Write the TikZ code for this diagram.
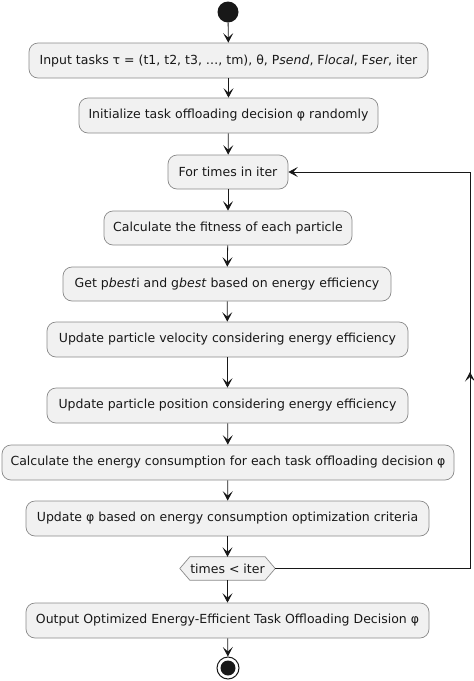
\documentclass[tikz,border=0pt]{standalone}
\usepackage{fontspec}
\setmainfont{DejaVu Sans}
\usetikzlibrary{arrows.meta,calc}
\definecolor{boxfill}{HTML}{F1F1F1}
\definecolor{boxline}{HTML}{8A8A8A}
\definecolor{ink}{HTML}{181818}
\begin{document}
\begin{tikzpicture}[x=1pt,y=-1pt,
  act/.style={rectangle,rounded corners=9pt,draw=boxline,fill=boxfill,line width=0.7pt,
    minimum height=35pt,inner sep=0pt,font=\fontsize{12.5}{14}\selectfont,text=ink},
  flow/.style={draw=ink,line width=0.8pt,-{Stealth[length=9.5pt,width=10pt,inset=4.5pt]}}]
\useasboundingbox (0,0) rectangle (474,681);
\node[circle,fill=ink,minimum size=21pt,inner sep=0pt] (start) at (228,12) {};
\node[act,minimum width=399pt] (n1) at (228.5,60.5) {Input tasks τ = (t1, t2, t3, …, tm), θ, P\textit{send}, F\textit{local}, F\textit{ser}, iter};
\node[act,minimum width=299pt] (n2) at (228.5,115.5) {Initialize task offloading decision φ randomly};
\node[act,minimum width=120pt,minimum height=34pt] (n3) at (228,172) {For times in iter};
\node[act,minimum width=248pt,minimum height=34pt] (n4) at (228,228) {Calculate the fitness of each particle};
\node[act,minimum width=328pt,minimum height=34pt] (n5) at (227,284) {Get p\textit{best}i and g\textit{best} based on energy efficiency};
\node[act,minimum width=361pt] (n6) at (227.5,339.5) {Update particle velocity considering energy efficiency};
\node[act,minimum width=361pt] (n7) at (227.5,405.5) {Update particle position considering energy efficiency};
\node[act,minimum width=452pt] (n8) at (228,462.5) {Calculate the energy consumption for each task offloading decision φ};
\node[act,minimum width=403pt] (n9) at (227.5,518.5) {Update φ based on energy consumption optimization criteria};
\node[minimum width=95pt,minimum height=23pt,inner sep=0pt] (dec) at (227.5,568.5) {};
\draw[draw=boxline,fill=boxfill,line width=0.7pt] (dec.west) -- ($(dec.north west)+(10,0)$) -- ($(dec.north east)+(-10,0)$) -- (dec.east) -- ($(dec.south east)+(-10,0)$) -- ($(dec.south west)+(10,0)$) -- cycle;
\node[font=\fontsize{12.5}{14}\selectfont,text=ink,inner sep=0pt] (declbl) at (dec) {times < iter};
\node[act,minimum width=403pt] (n10) at (227.5,620.5) {Output Optimized Energy-Efficient Task Offloading Decision φ};
\node[circle,draw=ink,line width=1pt,minimum size=22pt,inner sep=0pt] (stop) at (228,668) {};
\node[circle,fill=ink,minimum size=15pt,inner sep=0pt] (stopdot) at (stop) {};
\coordinate (r1) at (470,568.5);
\coordinate (r2) at (470,172);
\coordinate (ma) at (470,392);
\coordinate (mb) at (470,372);
\draw[flow] (start) -- (n1);
\draw[flow] (n1) -- (n2);
\draw[flow] (n2) -- (n3);
\draw[flow] (n3) -- (n4);
\draw[flow] (n4) -- (n5);
\draw[flow] (n5) -- (n6);
\draw[flow] (n6) -- (n7);
\draw[flow] (n7) -- (n8);
\draw[flow] (n8) -- (n9);
\draw[flow] (n9) -- (dec);
\draw[flow] (dec) -- (n10);
\draw[flow] (n10) -- (stop);
\draw[draw=ink,line width=0.8pt] (dec.east) -- (r1) -- (r2);
\draw[flow] (r2) -- (n3.east);
\draw[flow] (ma) -- (mb);
\end{tikzpicture}
\end{document}
